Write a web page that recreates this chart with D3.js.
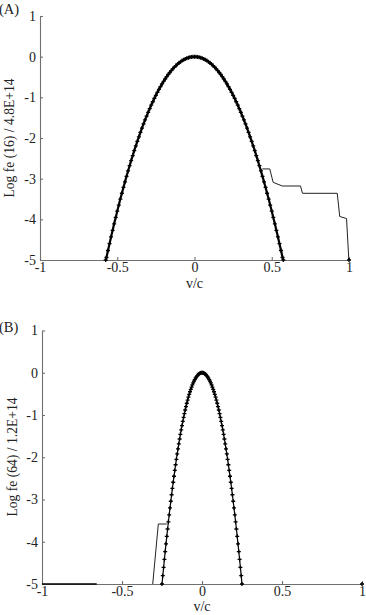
<!DOCTYPE html>
<html lang="en">
<head>
<meta charset="UTF-8">
<title>fe profiles</title>
<script src="https://cdn.jsdelivr.net/npm/d3@7"></script>
<style>
    html, body { margin: 0; padding: 0; background: #fff; }
    svg { display: block; }
    text { font-family: "Liberation Serif", "DejaVu Serif", serif; fill: #222; }
</style>
</head>
<body>
<script>
    // panel A: fe(16), v/c grid and log values
    var vA = [-0.575, -0.57, -0.56, -0.55, -0.54, -0.53, -0.52, -0.51, -0.50, -0.49, -0.48, -0.47, -0.46, -0.45, -0.44, -0.43, -0.42, -0.41, -0.40,
        -0.39, -0.38, -0.37, -0.36, -0.35, -0.34, -0.33, -0.32, -0.31, -0.30, -0.29, -0.28, -0.27, -0.26, -0.25, -0.24, -0.23, -0.22, -0.21, -0.20,
        -0.19, -0.18, -0.17, -0.16, -0.15, -0.14, -0.13, -0.12, -0.11, -0.10, -0.09, -0.08, -0.07, -0.06, -0.05, -0.04, -0.03, -0.02, -0.01, 0,
        0.01, 0.02, 0.03, 0.04, 0.05, 0.06, 0.07, 0.08, 0.09, 0.10, 0.11, 0.12, 0.13, 0.14, 0.15, 0.16, 0.17, 0.18, 0.19, 0.20,
        0.21, 0.22, 0.23, 0.24, 0.25, 0.26, 0.27, 0.28, 0.29, 0.30, 0.31, 0.32, 0.33, 0.34, 0.35, 0.36, 0.37, 0.38, 0.39, 0.40,
        0.41, 0.42, 0.43, 0.44, 0.45, 0.46, 0.47, 0.48, 0.49, 0.50, 0.51, 0.52, 0.53, 0.54, 0.55, 0.56, 0.57, 0.575];
    var fA = [-5, -4.938, -4.767, -4.598, -4.432, -4.270, -4.110, -3.954, -3.800, -3.650, -3.502, -3.358, -3.216, -3.078, -2.943, -2.810, -2.681, -2.555, -2.432,
        -2.312, -2.195, -2.081, -1.970, -1.862, -1.757, -1.655, -1.556, -1.461, -1.368, -1.278, -1.192, -1.108, -1.028, -0.950, -0.876, -0.804, -0.736, -0.670, -0.608,
        -0.549, -0.492, -0.439, -0.389, -0.342, -0.298, -0.257, -0.219, -0.184, -0.152, -0.123, -0.097, -0.074, -0.055, -0.038, -0.024, -0.014, -0.006, -0.002, 0,
        -0.002, -0.006, -0.014, -0.024, -0.038, -0.055, -0.074, -0.097, -0.123, -0.152, -0.184, -0.219, -0.257, -0.298, -0.342, -0.389, -0.439, -0.492, -0.549, -0.608,
        -0.670, -0.736, -0.804, -0.876, -0.950, -1.028, -1.108, -1.192, -1.278, -1.368, -1.461, -1.556, -1.655, -1.757, -1.862, -1.970, -2.081, -2.195, -2.312, -2.432,
        -2.555, -2.681, -2.810, -2.943, -3.078, -3.216, -3.358, -3.502, -3.650, -3.800, -3.954, -4.110, -4.270, -4.432, -4.598, -4.767, -4.938, -5];
    // panel A: stepped tail
    var stepAv = [0.438, 0.487, 0.509, 0.568, 0.686, 0.699, 0.924, 0.940, 0.984, 0.999];
    var stepAy = [-2.76, -2.76, -3.09, -3.18, -3.18, -3.36, -3.36, -3.93, -3.98, -5.0];

    // panel B: fe(64)
    var vB = [-0.250, -0.245, -0.240, -0.235, -0.230, -0.225, -0.220, -0.215, -0.210, -0.205, -0.200, -0.195, -0.190, -0.185, -0.180, -0.175, -0.170,
        -0.165, -0.160, -0.155, -0.150, -0.145, -0.140, -0.135, -0.130, -0.125, -0.120, -0.115, -0.110, -0.105, -0.100, -0.095, -0.090, -0.085,
        -0.080, -0.075, -0.070, -0.065, -0.060, -0.055, -0.050, -0.045, -0.040, -0.035, -0.030, -0.025, -0.020, -0.015, -0.010, -0.005, 0,
        0.005, 0.010, 0.015, 0.020, 0.025, 0.030, 0.035, 0.040, 0.045, 0.050, 0.055, 0.060, 0.065, 0.070, 0.075, 0.080, 0.085,
        0.090, 0.095, 0.100, 0.105, 0.110, 0.115, 0.120, 0.125, 0.130, 0.135, 0.140, 0.145, 0.150, 0.155, 0.160, 0.165, 0.170,
        0.175, 0.180, 0.185, 0.190, 0.195, 0.200, 0.205, 0.210, 0.215, 0.220, 0.225, 0.230, 0.235, 0.240, 0.245, 0.250];
    var fB = [-5.000, -4.802, -4.608, -4.418, -4.232, -4.050, -3.872, -3.698, -3.528, -3.362, -3.200, -3.042, -2.888, -2.738, -2.592, -2.450, -2.312,
        -2.178, -2.048, -1.922, -1.800, -1.682, -1.568, -1.458, -1.352, -1.250, -1.152, -1.058, -0.968, -0.882, -0.800, -0.722, -0.648, -0.578,
        -0.512, -0.450, -0.392, -0.338, -0.288, -0.242, -0.200, -0.162, -0.128, -0.098, -0.072, -0.050, -0.032, -0.018, -0.008, -0.002, 0,
        -0.002, -0.008, -0.018, -0.032, -0.050, -0.072, -0.098, -0.128, -0.162, -0.200, -0.242, -0.288, -0.338, -0.392, -0.450, -0.512, -0.578,
        -0.648, -0.722, -0.800, -0.882, -0.968, -1.058, -1.152, -1.250, -1.352, -1.458, -1.568, -1.682, -1.800, -1.922, -2.048, -2.178, -2.312,
        -2.450, -2.592, -2.738, -2.888, -3.042, -3.200, -3.362, -3.528, -3.698, -3.872, -4.050, -4.232, -4.418, -4.608, -4.802, -5.000];
    var stepBv = [-0.308, -0.273, -0.221];
    var stepBy = [-5, -3.58, -3.58];
    var floorBv = [-1, -0.658];
    var floorBy = [-5, -5];

    var xTicks = [-1, -0.5, 0, 0.5, 1];
    var yTicks = [-5, -4, -3, -2, -1, 0, 1];

    var svg = d3.select('body').append('svg').attr('width', 366).attr('height', 615);

    var zip = function (xs, ys) { return xs.map(function (v, i) { return [v, ys[i]]; }); };
    var plus = 'M-2,0H2M0,-2V2';

    var drawPanel = function (p) {
        var x = d3.scaleLinear().domain([-1, 1]).range([p.left, p.right]);
        var y = d3.scaleLinear().domain([-5, 1]).range([p.bottom, p.top]);
        var g = svg.append('g');
        var line = d3.line().x(function (d) { return x(d[0]); }).y(function (d) { return y(d[1]); });

        // axes, ticks pointing inward
        var ax = g.append('g').attr('transform', 'translate(0,' + p.bottom + ')')
            .call(d3.axisBottom(x).tickValues(xTicks).tickSize(-3).tickSizeOuter(0).tickPadding(2).tickFormat(function (d) { return String(d); }));
        var ay = g.append('g').attr('transform', 'translate(' + p.left + ',0)')
            .call(d3.axisLeft(y).tickValues(yTicks).tickSize(-3).tickSizeOuter(0).tickPadding(4).tickFormat(function (d) { return String(d); }));
        [ax, ay].forEach(function (a) {
            a.selectAll('path, line').attr('stroke', '#707070').attr('stroke-width', 1.1);
            a.selectAll('text').attr('font-size', 14).attr('fill', '#1a1a1a')
                .style('font-family', '"Liberation Serif", serif');
        });

        // extra black lines
        p.extra.forEach(function (s) {
            g.append('path').attr('d', line(s.pts)).attr('fill', 'none')
                .attr('stroke', s.color).attr('stroke-width', s.width);
        });

        // main curve
        var pts = zip(p.v, p.f);
        g.append('path').attr('d', line(pts)).attr('fill', 'none').attr('stroke', '#000').attr('stroke-width', p.lw);
        g.selectAll('.mk').data(pts.concat([[1, -5]])).enter().append('path')
            .attr('transform', function (d) { return 'translate(' + x(d[0]) + ',' + y(d[1]) + ')'; })
            .attr('d', plus).attr('stroke', '#000').attr('stroke-width', 1.3).attr('fill', 'none');

        // labels
        g.append('text').attr('x', (p.left + p.right) / 2 + p.xlabDx).attr('y', p.xlabY).attr('text-anchor', 'middle')
            .attr('font-size', 14).attr('fill', '#1a1a1a').text('v/c');
        g.append('text').attr('transform', 'translate(' + p.ylabX + ',' + p.ylabY + ') rotate(-90)')
            .attr('text-anchor', 'middle').attr('font-size', 13.6).attr('fill', '#1a1a1a').text(p.ylab);
        g.append('text').attr('x', -1).attr('y', p.tagY).attr('font-size', 14.5).attr('fill', '#1a1a1a').text(p.tag);
    };

    drawPanel({
        left: 40, right: 349, top: 16, bottom: 260,
        v: vA, f: fA, lw: 2.2,
        extra: [{ pts: zip(stepAv, stepAy), color: '#222', width: 1 }],
        xlabY: 288, xlabDx: 0,
        ylab: 'Log fe (16) / 4.8E+14', ylabX: 14, ylabY: 138,
        tag: '(A)', tagY: 14
    });
    drawPanel({
        left: 42, right: 362, top: 330.5, bottom: 584,
        v: vB, f: fB, lw: 1.2,
        extra: [{ pts: zip(stepBv, stepBy), color: '#222', width: 1 },
                { pts: zip(floorBv, floorBy), color: '#000', width: 1.6 }],
        xlabY: 611, xlabDx: 0,
        ylab: 'Log fe (64) / 1.2E+14', ylabX: 17, ylabY: 457,
        tag: '(B)', tagY: 332
    });
</script>
</body>
</html>
